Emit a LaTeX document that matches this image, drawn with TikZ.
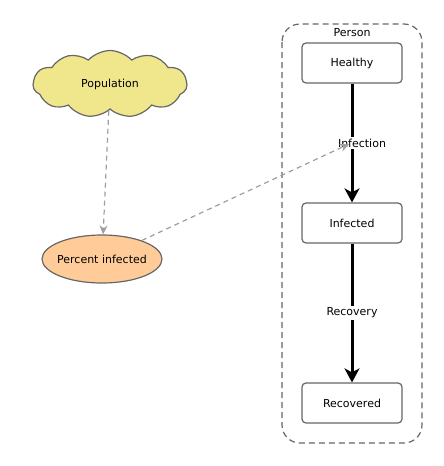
\documentclass[tikz,border=0pt]{standalone}
\usepackage{fontspec}
\setmainfont{DejaVu Sans}
\usetikzlibrary{shapes.symbols,shapes.geometric,arrows.meta}
\definecolor{khaki}{HTML}{F0E68C}
\definecolor{peach}{HTML}{FFCC99}
\definecolor{edge}{HTML}{666666}

\begin{document}
\begin{tikzpicture}[x=1pt, y=-1pt, font=\fontsize{11}{13}\selectfont,
    state/.style={draw=edge, line width=1.2pt, rounded corners=4pt, minimum width=100pt, minimum height=40pt, fill=white},
    flow/.style={line width=3pt, -{Stealth[length=14pt,width=15pt,inset=4pt]}},
    link/.style={draw=black!38, dashed, dash pattern=on 5pt off 4pt, line width=1.2pt, -{Stealth[length=9pt,width=8pt]}},
    lbl/.style={fill=white, inner sep=1.5pt}]
  \useasboundingbox (0,0) rectangle (444,466);

  % Person container
  \draw[edge, line width=1.2pt, dash pattern=on 6pt off 4pt, rounded corners=18pt] (282,24) rectangle (422,443);
  \node (person) at (352,33) {Person};

  % States
  \node[state] (healthy) at (352,63) {Healthy};
  \node[state] (infected) at (352,223) {Infected};
  \node[state] (recovered) at (352,403) {Recovered};

  % Model inputs
  \node[cloud, cloud puffs=11, cloud puff arc=95, aspect=2.4, draw=edge, line width=1.2pt, fill=khaki,
        minimum width=154pt, minimum height=67pt] (pop) at (110,84) {Population};
  \node[ellipse, draw=edge, line width=1.2pt, fill=peach,
        minimum width=120pt, minimum height=48pt, inner xsep=-4pt, inner ysep=1pt] (pct) at (102,259) {Percent infected};

  % Transitions
  \draw[flow] (healthy) -- node[lbl, pos=0.5, xshift=10pt] (infection) {Infection} (infected);
  \draw[flow] (infected) -- node[lbl, pos=0.5] (recovery) {Recovery} (recovered);

  % Dependencies
  \coordinate (tip) at (349,144);
  \draw[link] (pop) -- (pct);
  \draw[link] (pct) -- (tip);
\end{tikzpicture}
\end{document}
